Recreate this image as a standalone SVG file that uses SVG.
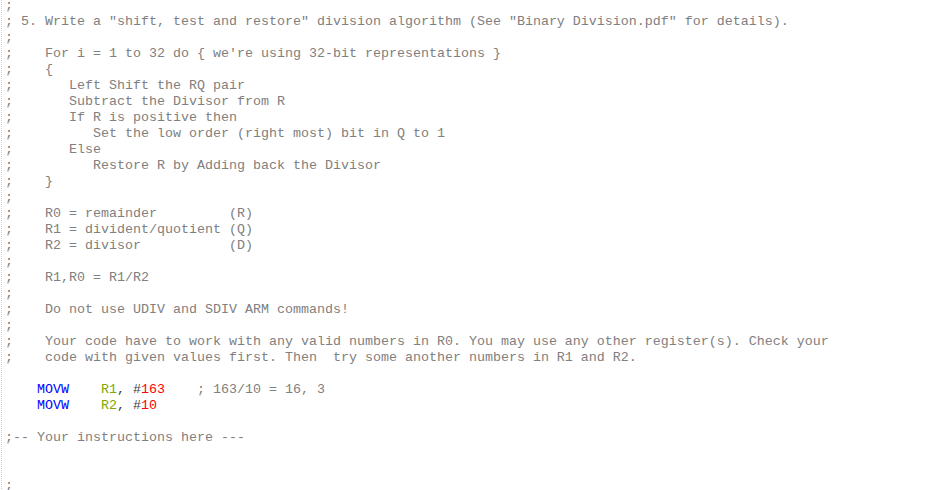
<svg xmlns="http://www.w3.org/2000/svg" width="925" height="490" viewBox="0 0 925 490">
<style>
text{font-family:"Liberation Mono","Courier New",monospace;font-size:13.33px;fill:#808080;white-space:pre}
.k{fill:#0000ff}.r{fill:#80a800}.p{fill:#404040}.n{fill:#ff0000}
</style>
<rect width="925" height="490" fill="#ffffff"/>
<line x1="1.5" y1="0" x2="1.5" y2="490" stroke="#d0d0d0" stroke-dasharray="1 1"/>
<g id="code" xml:space="preserve">
<text x="5" y="9">;</text>
<text x="5" y="25">; 5. Write a "shift, test and restore" division algorithm (See "Binary Division.pdf" for details).</text>
<text x="5" y="41">;</text>
<text x="5" y="57">;    For i = 1 to 32 do { we're using 32-bit representations }</text>
<text x="5" y="73">;    {</text>
<text x="5" y="89">;       Left Shift the RQ pair</text>
<text x="5" y="105">;       Subtract the Divisor from R</text>
<text x="5" y="121">;       If R is positive then</text>
<text x="5" y="137">;          Set the low order (right most) bit in Q to 1</text>
<text x="5" y="153">;       Else</text>
<text x="5" y="169">;          Restore R by Adding back the Divisor</text>
<text x="5" y="185">;    }</text>
<text x="5" y="201">;</text>
<text x="5" y="217">;    R0 = remainder         (R)</text>
<text x="5" y="233">;    R1 = divident/quotient (Q)</text>
<text x="5" y="249">;    R2 = divisor           (D)</text>
<text x="5" y="265">;</text>
<text x="5" y="281">;    R1,R0 = R1/R2</text>
<text x="5" y="297">;</text>
<text x="5" y="313">;    Do not use UDIV and SDIV ARM commands!</text>
<text x="5" y="329">;</text>
<text x="5" y="345">;    Your code have to work with any valid numbers in R0. You may use any other register(s). Check your</text>
<text x="5" y="361">;    code with given values first. Then  try some another numbers in R1 and R2.</text>
<text x="5" y="393">    <tspan class="k">MOVW</tspan>    <tspan class="r">R1</tspan><tspan class="p">, #</tspan><tspan class="n">163</tspan>    ; 163/10 = 16, 3</text>
<text x="5" y="409">    <tspan class="k">MOVW</tspan>    <tspan class="r">R2</tspan><tspan class="p">, #</tspan><tspan class="n">10</tspan></text>
<text x="5" y="441">;-- Your instructions here ---</text>
<text x="5" y="489">;</text>
</g>
</svg>
